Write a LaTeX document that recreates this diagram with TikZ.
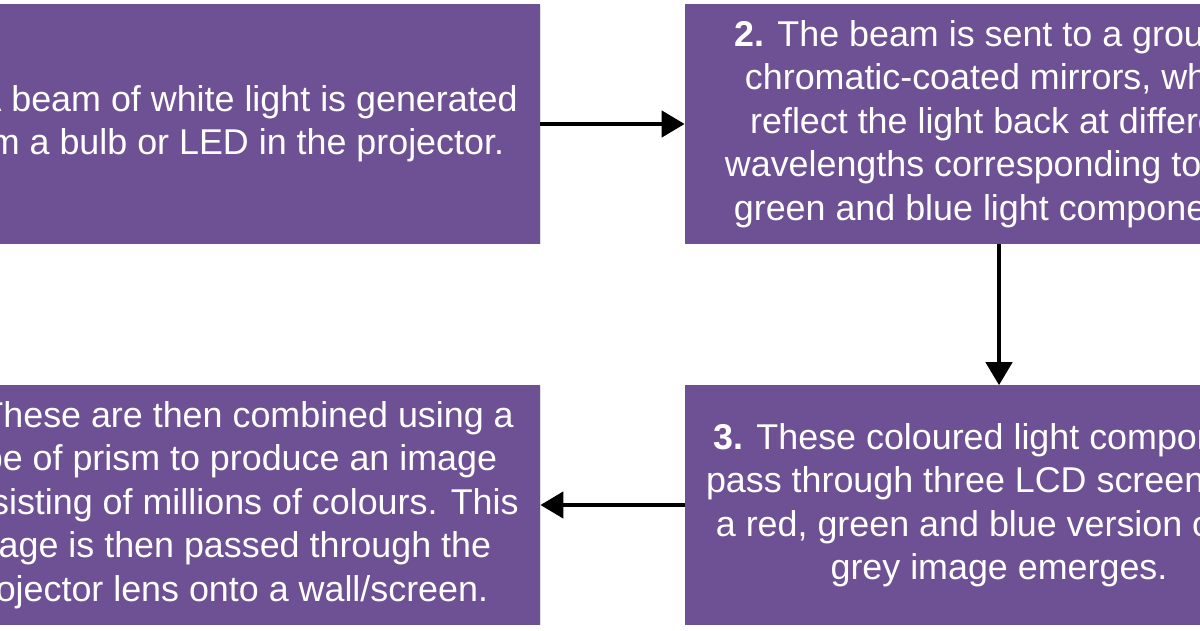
\documentclass[tikz,border=0pt]{standalone}
\usepackage{fontspec}
\setmainfont{Liberation Sans}
\usetikzlibrary{arrows.meta}
\usetikzlibrary{shadows}
\usetikzlibrary{positioning}
\definecolor{stepviolet}{RGB}{110,80,148}

\tikzset{
  stepbox/.style={rectangle, fill=stepviolet, draw=none, text=white, align=center,
    minimum width=15.7cm, minimum height=5.975cm, inner sep=0pt,
    font=\fontsize{25.5}{30.9}\selectfont,
    drop shadow={opacity=0.25, shadow xshift=0.6pt, shadow yshift=-0.6pt}},
  flow/.style={line width=3.2pt, -{Triangle[length=0.575cm,width=0.65cm]}}
}

\begin{document}
\begin{tikzpicture}[x=0.025cm,y=-0.025cm]
\useasboundingbox (0,0) rectangle (1200,630);
\clip (0,0) rectangle (1200,630);

\node[stepbox] (beam) at (226,124) {\textbf{1.} A beam of white light is generated\\from a bulb or LED in the projector.};
\node[stepbox] (mirrors) at (999,124) {\textbf{2.} The beam is sent to a group of\\chromatic-coated mirrors, which\\reflect the light back at different\\wavelengths corresponding to red,\\green and blue light components.};
\node[stepbox] (lcd) at (999,505) {\textbf{3.} These coloured light components\\pass through three LCD screens and\\a red, green and blue version of the\\grey image emerges.};
\node[stepbox] (prism) at (226,505) {\textbf{4.} These are then combined using a\\type of prism to produce an image\\consisting of millions of colours. This\\image is then passed through the\\projector lens onto a wall/screen.};

\draw[flow] (beam) -- (mirrors);
\draw[flow] (mirrors) -- (lcd);
\draw[flow] (lcd) -- (prism);

\end{tikzpicture}
\end{document}
